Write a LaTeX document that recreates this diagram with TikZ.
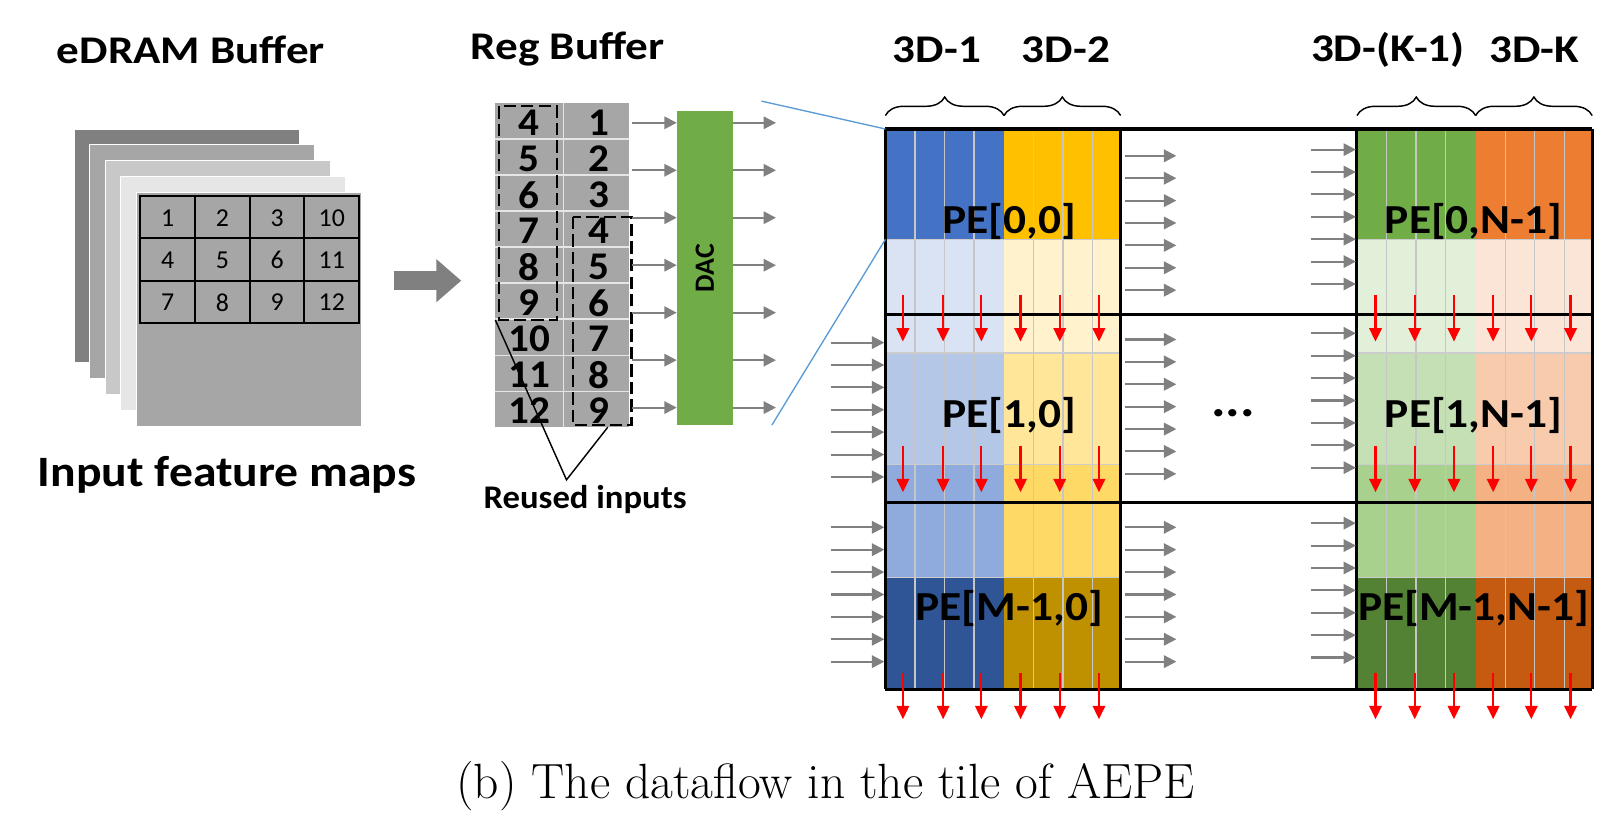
\documentclass[tikz,border=0pt]{standalone}
\usepackage{fontspec}
\setmainfont{Latin Modern Roman}
\newfontfamily\carl{Carlito}
\usetikzlibrary{decorations.pathreplacing,arrows.meta}
\definecolor{bA}{HTML}{4472C4}\definecolor{yA}{HTML}{FFC000}\definecolor{gA}{HTML}{70AD47}\definecolor{oA}{HTML}{ED7D31}
\definecolor{bL}{HTML}{DAE3F3}\definecolor{yL}{HTML}{FFF2CC}\definecolor{gL}{HTML}{E2F0D9}\definecolor{oL}{HTML}{FBE5D6}
\definecolor{bM}{HTML}{B4C7E7}\definecolor{yM}{HTML}{FFE699}\definecolor{gM}{HTML}{C5E0B4}\definecolor{oM}{HTML}{F8CBAD}
\definecolor{bN}{HTML}{8FAADC}\definecolor{yN}{HTML}{FFD966}\definecolor{gN}{HTML}{A9D18E}\definecolor{oN}{HTML}{F4B183}
\definecolor{bD}{HTML}{2F5597}\definecolor{yD}{HTML}{BF9000}\definecolor{gD}{HTML}{548235}\definecolor{oD}{HTML}{C55A11}
\definecolor{arr}{HTML}{808080}
\tikzset{
 title/.style={font=\carl\bfseries\fontsize{38}{40}\selectfont,xscale=1.15},
 pe/.style={font=\carl\bfseries\fontsize{40}{42}\selectfont,xscale=1.1},
 regn/.style={font=\carl\bfseries\fontsize{38}{38}\selectfont,inner sep=0pt,xscale=1.05},
 garr/.style={draw=arr,line width=2pt,-{Triangle[length=12pt,width=12pt]}},
 rarr/.style={draw=red,line width=2.2pt,-{Triangle[length=13pt,width=12pt]}},
}
\begin{document}
\begin{tikzpicture}[x=1pt,y=-1pt]
\useasboundingbox (0,0) rectangle (1568,806);
% ---- eDRAM buffer
\node[title] (t1) at (185,48) {eDRAM Buffer};
\foreach \i/\c in {0/808080,1/A6A6A6,2/C8C8C8,3/E6E6E6}{
  \definecolor{sc}{HTML}{\c}
  \fill[sc,draw=white,line width=1pt] (72+15*\i,125+15.5*\i) rectangle ++(218,226);}
\fill[fill={rgb,255:red,166;green,166;blue,166},draw=white,line width=1pt] (132,187) rectangle (350,413);
\foreach \r/\a/\b/\c/\d in {0/1/2/3/10,1/4/5/6/11,2/7/8/9/12}{
  \foreach \k/\n in {0/\a,1/\b,2/\c,3/\d}{
    \draw[line width=2pt] (136+53*\k,190+41*\r) rectangle ++(53,41);
    \node[font=\carl\fontsize{25}{25}\selectfont] (fm\r\k) at (162.5+53*\k,211+41*\r) {\n};}}
\node[font=\carl\bfseries\fontsize{42}{44}\selectfont,xscale=1.1] (t2) at (220,460) {Input feature maps};
\coordinate (ba) at (382,272); \coordinate (bb) at (447,272);
\draw[draw=arr,line width=18pt,-{Triangle[length=24pt,width=40pt]}] (ba) -- (bb);
% ---- reg buffer
\node[title] (t3) at (550,48) {Reg Buffer};
\fill[fill={rgb,255:red,166;green,166;blue,166}] (480,100) rectangle (610,414);
\draw[white!80!gray,line width=1.5pt] (546,100) -- (546,414);
\foreach \r in {1,...,8}{\draw[white!80!gray,line width=1.5pt] (480,100+34.9*\r) -- (610,100+34.9*\r);}
\foreach \r/\a/\b in {0/4/1,1/5/2,2/6/3,3/7/4,4/8/5,5/9/6,6/10/7,7/11/8,8/12/9}{
  \node[regn] (ra\r) at (513,119+34.9*\r) {\a};
  \node[regn] (rb\r) at (580,119+34.9*\r) {\b};}
\draw[dash pattern=on 12pt off 5pt,line width=2pt] (484,103) rectangle (540,310);
\draw[dash pattern=on 12pt off 5pt,line width=2pt] (555,210) rectangle (612,412);
\coordinate (ru1) at (480,310); \coordinate (ru2) at (589,414); \coordinate (rv) at (549,465);
\draw[line width=1.4pt] (ru1) -- (rv) -- (ru2);
\node[font=\carl\bfseries\fontsize{32}{32}\selectfont,xscale=1.05] (t4) at (567,484) {Reused inputs};
\node[fill=gA,minimum width=54pt,minimum height=304pt,inner sep=0pt] (dac) at (683,260) {};
\node[rotate=90,font=\carl\bfseries\fontsize{27}{27}\selectfont] at (dac.center) {DAC};
\foreach \k in {0,...,6}{
  \coordinate (da\k) at (612,119+46*\k); \coordinate (db\k) at (dac.west|-da\k);
  \draw[garr] (da\k) -- (db\k);
  \coordinate (dc\k) at (dac.east|-da\k); \coordinate (dd\k) at (752,119+46*\k);
  \draw[garr] (dc\k) -- (dd\k);}
% ---- PE grid
\def\xa{858}\def\xb{973}\def\xc{1086}\def\xd{1315}\def\xe{1430}\def\xf{1543}
\newcommand\blk[5]{\fill[#5] (#1,#3) rectangle (#2,#4);}
\newcommand\band[6]{\blk{\xa}{\xb}{#1}{#2}{#3}\blk{\xb}{\xc}{#1}{#2}{#4}\blk{\xd}{\xe}{#1}{#2}{#5}\blk{\xe}{\xf}{#1}{#2}{#6}}
\band{125}{232}{bA}{yA}{gA}{oA}
\band{232}{342}{bL}{yL}{gL}{oL}
\band{342}{450}{bM}{yM}{gM}{oM}
\band{450}{560}{bN}{yN}{gN}{oN}
\band{560}{668}{bD}{yD}{gD}{oD}
\foreach \x in {\xa,\xb,\xd,\xe}{\foreach \j in {1,2,3}{
  \draw[gray!45,line width=1.2pt] (\x+28.6*\j,125) -- (\x+28.6*\j,668);}}
\foreach \y in {232,342,450,560}{
  \draw[gray!40,line width=1.2pt] (\xa,\y) -- (\xc,\y); \draw[gray!40,line width=1.2pt] (\xd,\y) -- (\xf,\y);}
\foreach \y in {125,305,487,668}{\draw[line width=3pt] (\xa,\y) -- (\xf,\y);}
\foreach \x in {\xa,\xc,\xd,\xf}{\draw[line width=3pt] (\x,125) -- (\x,668);}
\node[pe] (p00) at (978,215) {PE[0,0]};
\node[pe] (p0n) at (1428,215) {PE[0,N-1]};
\node[pe] (p10) at (978,403) {PE[1,0]};
\node[pe] (p1n) at (1428,403) {PE[1,N-1]};
\node[pe] (pm0) at (978,590) {PE[M-1,0]};
\node[pe] (pmn) at (1428,590) {PE[M-1,N-1]};
\node[pe,font=\carl\bfseries\fontsize{48}{48}\selectfont] (dots) at (1195,400) {...};
\foreach \a/\b/\n/\l in {\xa/\xb/b1/3D-1,\xb/\xc/b2/3D-2,\xd/\xe/b3/3D-(K-1),\xe/\xf/b4/3D-K}{
  \draw[line width=1.4pt,decorate,decoration={brace,amplitude=18pt}] (\a,112) -- (\b,112);}
\node[title] (b1) at (908,48) {3D-1};
\node[title] (b2) at (1033,48) {3D-2};
\node[title] (b3) at (1345,48) {3D-(K-1)};
\node[title] (b4) at (1487,48) {3D-K};
\coordinate (z1) at (738,98); \coordinate (z2) at (748,412);
\coordinate (g1) at (\xa,125); \coordinate (g2) at (\xa,232);
\draw[color={rgb,255:red,91;green,155;blue,213},line width=1.3pt] (z1) -- (g1) (z2) -- (g2);
\foreach \ys in {151,329,511}{\foreach \k in {0,...,6}{
  \coordinate (q) at (1090,\ys+21.7*\k);
  \draw[garr] (q) -- ++(50,0);}}
\foreach \ys in {145,323,507}{\foreach \k in {0,...,6}{
  \coordinate (q) at (1270,\ys+21.7*\k);
  \draw[garr] (q) -- ++(44,0);}}
\foreach \ys in {332,511}{\foreach \k in {0,...,6}{
  \coordinate (q) at (805,\ys+21.7*\k);
  \draw[garr] (q) -- ++(52,0);}}
\foreach \x in {875,914,951,989,1027,1065,1333,1371,1409,1447,1484,1522}{
  \foreach \ya in {286,432,652}{
    \coordinate (q) at (\x,\ya);
    \draw[rarr] (q) -- ++(0,45);}}
\node[font=\fontsize{48}{50}\selectfont] (cap) at (800,762) {(b) The dataflow in the tile of AEPE};
\end{tikzpicture}
\end{document}
